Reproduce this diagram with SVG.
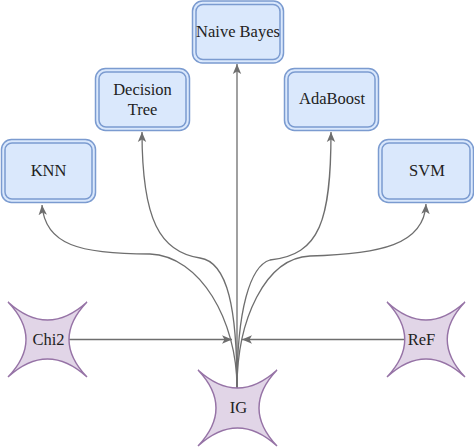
<svg xmlns="http://www.w3.org/2000/svg" width="474" height="447" viewBox="0 0 474 447">
<style>
.box{fill:#dae8fc;stroke:#7b9bd0;stroke-width:1.5}
.inner{fill:none;stroke:#7b9bd0;stroke-width:1.5}
.star{fill:#e1d5e7;stroke:#9673a6;stroke-width:1.4}
.t{font-family:"Liberation Serif",serif;font-size:16.5px;fill:#222;text-anchor:middle}
.e{fill:none;stroke:#6e6e6e;stroke-width:1.3}
</style>
<defs>
<marker id="arr" viewBox="0 0 10 10" refX="10" refY="5" markerWidth="10" markerHeight="10" markerUnits="userSpaceOnUse" orient="auto">
<path d="M0,0.8 L10,5 L0,9.2 L2.5,5 Z" fill="#6e6e6e"/>
</marker>
</defs>
<rect width="474" height="447" fill="#fff"/>
<g id="edges">
<path class="e" marker-end="url(#arr)" d="M237,388 L237,64"/>
<path class="e" marker-end="url(#arr)" d="M237,388 C237,320 200,256 150,254 C80,254 45,245 42,205"/>
<path class="e" marker-end="url(#arr)" d="M237,388 C237,310 228,262 200,258 C160,252 142,220 142,132"/>
<path class="e" marker-end="url(#arr)" d="M237,388 C237,310 250,266 270,260 C320,255 331,220 331,132"/>
<path class="e" marker-end="url(#arr)" d="M237,388 C237,320 265,258 310,256 C380,254 424,245 426,204"/>
<path class="e" marker-end="url(#arr)" d="M67,339.5 L232,339.5"/>
<path class="e" marker-end="url(#arr)" d="M406,339.5 L242,339.5"/>
</g>
<g id="knn">
<rect class="box" x="1.5" y="139.5" width="94" height="63" rx="10"/>
<rect class="inner" x="5" y="143" width="87" height="56" rx="7"/>
<text class="t" x="48.5" y="176">KNN</text>
</g>
<g id="decision-tree">
<rect class="box" x="95.5" y="68.5" width="94" height="62" rx="10"/>
<rect class="inner" x="99" y="72" width="87" height="55" rx="7"/>
<text class="t" x="142.5" y="95">Decision</text>
<text class="t" x="142.5" y="115">Tree</text>
</g>
<g id="naive-bayes">
<rect class="box" x="192.5" y="1" width="91" height="62" rx="10"/>
<rect class="inner" x="196" y="4.5" width="84" height="55" rx="7"/>
<text class="t" x="238" y="37">Naive Bayes</text>
</g>
<g id="adaboost">
<rect class="box" x="284.5" y="68.5" width="94" height="62" rx="10"/>
<rect class="inner" x="288" y="72" width="87" height="55" rx="7"/>
<text class="t" x="332" y="104">AdaBoost</text>
</g>
<g id="svm">
<rect class="box" x="378.5" y="139.5" width="95" height="63" rx="10"/>
<rect class="inner" x="382" y="143" width="88" height="56" rx="7"/>
<text class="t" x="427" y="176">SVM</text>
</g>
<g id="chi2">
<path class="star" d="M8,302 Q47.5,338 87,302 Q51,339.5 87,377 Q47.5,341 8,377 Q44,339.5 8,302 Z"/>
<text class="t" x="48.5" y="345">Chi2</text>
</g>
<g id="ref">
<path class="star" d="M387,302 Q426,338 465,302 Q429.5,339.5 465,377 Q426,341 387,377 Q422.5,339.5 387,302 Z"/>
<text class="t" x="421.5" y="345">ReF</text>
</g>
<g id="ig">
<path class="star" d="M198,370 Q237.5,406 277,370 Q241,408 277,446 Q237.5,410 198,446 Q234,408 198,370 Z"/>
<text class="t" x="238.5" y="413">IG</text>
</g>
</svg>
